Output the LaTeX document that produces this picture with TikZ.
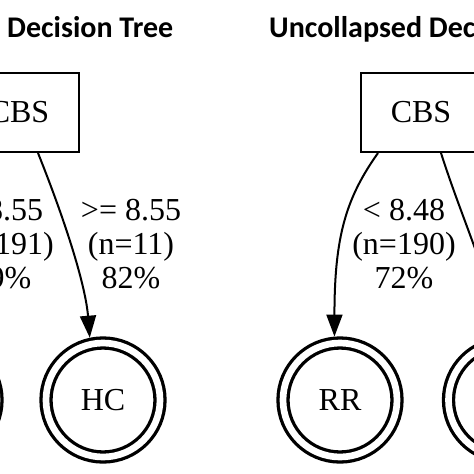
\documentclass[tikz,border=0pt]{standalone}
\usepackage{fontspec}
\setmainfont{Liberation Serif}
\newfontfamily\titlefont{Carlito}
\usetikzlibrary{arrows.meta}

\begin{document}
\begin{tikzpicture}[x=1pt, y=-1pt,
      every node/.style={align=center, font=\fontsize{32}{34}\selectfont},
      splitbox/.style={shape=rectangle, draw, line width=2.3pt, minimum width=119.7pt, minimum height=78.7pt},
      leafnode/.style={shape=circle, draw, line width=3.3pt, double, double distance=6.7pt,
        minimum size=114pt, inner sep=0pt, outer sep=6.7pt},
      treetitle/.style={anchor=base west, inner sep=0pt, font=\titlefont\bfseries\fontsize{30}{34}\selectfont},
      branch/.style={line width=2pt, -{Triangle[length=22pt, width=16pt]}}]
  \useasboundingbox (0,0) rectangle (474,474);
  \clip (0,0) rectangle (474,474);

  \node[treetitle] (ltitle) at (7,37) {Decision Tree};
  \node[treetitle] (rtitle) at (269,37) {Uncollapsed Decision Tree};

  \node[splitbox] (lcbs) at (19,112.5) {CBS};
  \node[splitbox] (rcbs) at (421,112.5) {CBS};

  \node[leafnode] (lleft) at (-60,400) {};
  \node[leafnode] (hc) at (103,400) {HC};
  \node[leafnode] (rr) at (340,400) {RR};
  \node[leafnode] (rright) at (505.5,400) {};

  \draw[branch] ([xshift=-43pt]lcbs.south) .. controls +(-30,75) and +(4,-50) .. (lleft.78);
  \draw[branch] ([xshift=19pt]lcbs.south) .. controls +(30,75) and +(-4,-50) .. (hc.102);
  \draw[branch] ([xshift=-43pt]rcbs.south) .. controls +(-32,45) and +(0,-100) .. (rr.95);
  \draw[branch] ([xshift=20pt]rcbs.south) .. controls +(21,66) and +(-5,-57) .. (rright.99);

  \node (llow) at (2,244.5) {< 8.55\\(n=191)\\69\%};
  \node (lhigh) at (131,244.5) {>= 8.55\\(n=11)\\82\%};
  \node (rlow) at (404,244.5) {< 8.48\\(n=190)\\72\%};
\end{tikzpicture}
\end{document}
